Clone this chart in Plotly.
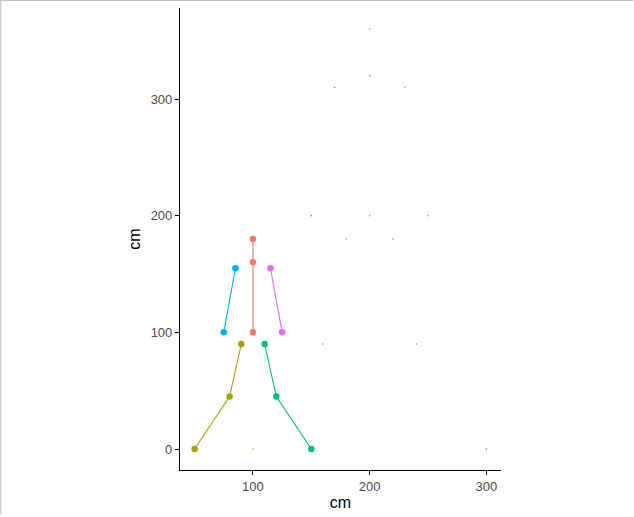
import plotly.graph_objects as go

# Stick figure parts (cm)
parts = ["body", "left_leg", "right_leg", "left_arm", "right_arm"]
colors = ["#F8766D", "#A3A500", "#00BF7D", "#00B0F6", "#E76BF3"]
xs = {
    "body": [100, 100, 100],
    "left_leg": [50, 80, 90],
    "right_leg": [150, 120, 110],
    "left_arm": [75, 85],
    "right_arm": [125, 115],
}
ys = {
    "body": [180, 160, 100],
    "left_leg": [0, 45, 90],
    "right_leg": [0, 45, 90],
    "left_arm": [100, 155],
    "right_arm": [100, 155],
}
# faint "ghost" points (doubled coordinates)
gx = {
    "body": [200, 200, 200],
    "left_leg": [100, 160, 180],
    "right_leg": [300, 240, 220],
    "left_arm": [150, 170],
    "right_arm": [250, 230],
}
gy = {
    "body": [360, 320, 200],
    "left_leg": [0, 90, 180],
    "right_leg": [0, 90, 180],
    "left_arm": [200, 310],
    "right_arm": [200, 310],
}

fig = go.Figure()
for p, c in zip(parts, colors):
    fig.add_trace(go.Scatter(x=gx[p], y=gy[p], mode="markers",
                             marker=dict(size=1.6, color=c, line=dict(width=0)),
                             showlegend=False, hoverinfo="skip"))
for p, c in zip(parts, colors):
    fig.add_trace(go.Scatter(x=xs[p], y=ys[p], mode="lines+markers",
                             line=dict(color=c, width=1.1),
                             marker=dict(size=6.5, color=c, line=dict(width=0)),
                             showlegend=False))

W, H = 634, 517
L, R, T, B = 180, 132.5, 8, 45
pw, ph = W - L - R, H - T - B

axis_common = dict(showgrid=False, zeroline=False, showline=True, linecolor="black",
                   linewidth=1.1, ticks="outside", ticklen=4, tickcolor="black",
                   tickwidth=1.1, tickfont=dict(family="Liberation Sans, Arial", size=13, color="#4D4D4D"),
                   title_font=dict(family="Liberation Sans, Arial", size=16, color="black"),
                   mirror=False)

fig.update_layout(
    width=W, height=H,
    margin=dict(l=L, r=R, t=T, b=B, pad=0),
    plot_bgcolor="white", paper_bgcolor="white",
    xaxis=dict(range=[37.5, 312.5], tickvals=[100, 200, 300], title=dict(text="cm", standoff=4), **axis_common),
    yaxis=dict(range=[-18, 378], tickvals=[0, 100, 200, 300], title=dict(text="cm", standoff=6), **axis_common),
    shapes=[
        dict(type="line", xref="paper", yref="paper", x0=-L / pw, x1=(W - L) / pw,
             y0=1 + (T - 0.5) / ph, y1=1 + (T - 0.5) / ph, line=dict(color="#BBBBBB", width=1)),
        dict(type="line", xref="paper", yref="paper", x0=-(L - 0.5) / pw, x1=-(L - 0.5) / pw,
             y0=-B / ph, y1=1 + T / ph, line=dict(color="#BBBBBB", width=1)),
    ],
)

fig.write_html("out.html", config={"displayModeBar": False},
               post_script="document.body.style.margin='0';document.body.style.overflow='hidden';")
